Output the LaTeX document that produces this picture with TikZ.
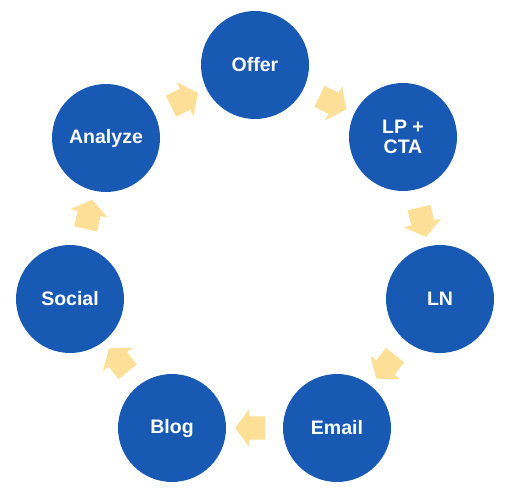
\documentclass[tikz,border=0pt]{standalone}
\usepackage{fontspec}
\setmainfont{Liberation Sans}
\usetikzlibrary{shapes.arrows}
\definecolor{stageblue}{RGB}{24,89,179}
\definecolor{flowyellow}{RGB}{254,223,152}

\begin{document}
\begin{tikzpicture}[x=1pt,y=-1pt,
    stage/.style={circle,fill=stageblue,minimum size=108pt,inner sep=0pt,
        text=white,font=\fontsize{19.5}{20}\bfseries,align=center},
    flow/.style={single arrow,fill=flowyellow,inner xsep=0pt,inner ysep=11.5pt,
        minimum height=30pt,
        single arrow head extend=7.5pt,single arrow tip angle=107,
        sloped,allow upside down}]
    \useasboundingbox (0,0) rectangle (506,492);

    % the cycle stages
    \node[stage] (offer)   at (255,65)  {Offer};
    \node[stage] (lpcta)   at (403,137) {LP +\\CTA};
    \node[stage] (ln)      at (440,299) {LN};
    \node[stage] (email)   at (337,428) {Email};
    \node[stage] (blog)    at (172,428) {Blog};
    \node[stage] (social)  at (70,299)  {Social};
    \node[stage] (analyze) at (106,138) {Analyze};

    % block arrows between stages
    \path (offer)   -- node[flow] {} (lpcta);
    \path (lpcta)   -- node[flow] {} (ln);
    \path (ln)      -- node[flow] {} (email);
    \path (email)   -- node[flow] {} (blog);
    \path (blog)    -- node[flow] {} (social);
    \path (social)  -- node[flow] {} (analyze);
    \path (analyze) -- node[flow] {} (offer);
\end{tikzpicture}
\end{document}
